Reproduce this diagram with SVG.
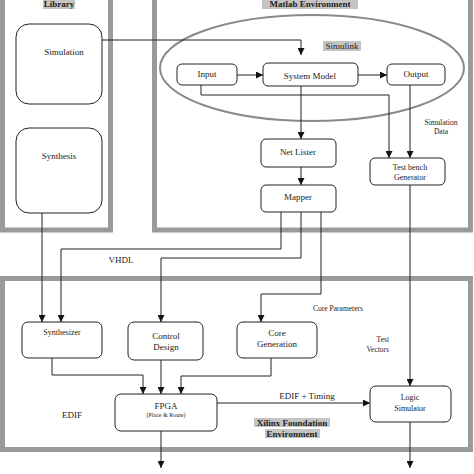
<svg xmlns="http://www.w3.org/2000/svg" width="474" height="474" viewBox="0 0 474 474">
<style>
.panel{fill:none;stroke:#9a9a9a;stroke-width:5}
.box{fill:#fff;stroke:#222;stroke-width:1}
.t{font-family:"Liberation Serif",serif;font-size:9px;fill:#222;text-anchor:middle}
.s{font-size:7.5px}
.m{font-size:8px}
.b{font-weight:bold}
.lbg{fill:#c4c4c4}
.c{fill:none;stroke:#222;stroke-width:1}
</style>
<defs>
<marker id="ah" viewBox="0 0 10 10" refX="10" refY="5" markerWidth="7" markerHeight="7" markerUnits="userSpaceOnUse" orient="auto">
<path d="M0,0 L10,5 L0,10 z" fill="#111"/>
</marker>
</defs>
<rect width="474" height="474" fill="#fff"/>
<g id="panels">
<rect class="panel" x="2.5" y="-10" width="108" height="240"/>
<rect class="panel" x="154.5" y="-10" width="316" height="240"/>
<rect class="panel" x="2.5" y="278.5" width="468" height="171"/>
<ellipse cx="312" cy="68" rx="152" ry="53" fill="none" stroke="#8a8a8a" stroke-width="2"/>
</g>
<g id="titles">
<rect class="lbg" x="43" y="0" width="32" height="9"/>
<text class="t b" x="59" y="7">Library</text>
<rect class="lbg" x="262" y="0" width="96" height="9"/>
<text class="t b" x="310" y="7">Matlab Environment</text>
<rect class="lbg" x="323" y="41" width="38" height="10"/>
<text class="t" x="342" y="49">Simulink</text>
<rect class="lbg" x="254" y="418" width="76" height="9"/>
<rect class="lbg" x="265" y="429" width="55" height="9"/>
<text class="t b" x="292" y="426">Xilinx Foundation</text>
<text class="t b" x="292" y="437">Environment</text>
</g>
<g id="connectors">
<polyline class="c" points="102,40 301,40 301,55" marker-end="url(#ah)"/>
<line class="c" x1="237" y1="75" x2="263" y2="75" marker-end="url(#ah)"/>
<line class="c" x1="358" y1="75" x2="387" y2="75" marker-end="url(#ah)"/>
<polyline class="c" points="201,85 201,95 389,95 389,158" marker-end="url(#ah)"/>
<line class="c" x1="410" y1="85" x2="410" y2="158" marker-end="url(#ah)"/>
<line class="c" x1="301" y1="86" x2="301" y2="139" marker-end="url(#ah)"/>
<line class="c" x1="301" y1="167" x2="301" y2="185" marker-end="url(#ah)"/>
<line class="c" x1="42" y1="213" x2="42" y2="322" marker-end="url(#ah)"/>
<polyline class="c" points="281,212 281,249 61,249 61,322" marker-end="url(#ah)"/>
<polyline class="c" points="301,212 301,258 161,258 161,322" marker-end="url(#ah)"/>
<polyline class="c" points="321,212 321,294 261,294 261,322" marker-end="url(#ah)"/>
<line class="c" x1="410" y1="185" x2="410" y2="386" marker-end="url(#ah)"/>
<polyline class="c" points="52,358 52,375 143,375 143,394" marker-end="url(#ah)"/>
<line class="c" x1="161" y1="360" x2="161" y2="394" marker-end="url(#ah)"/>
<polyline class="c" points="271,358 271,376 181,376 181,394" marker-end="url(#ah)"/>
<line class="c" x1="217" y1="403" x2="370" y2="403" marker-end="url(#ah)"/>
<line class="c" x1="161" y1="431" x2="161" y2="468" marker-end="url(#ah)"/>
<line class="c" x1="410" y1="422" x2="410" y2="468" marker-end="url(#ah)"/>
</g>
<g id="labels">
<text class="t" x="121" y="263">VHDL</text>
<text class="t s" x="338" y="311">Core Parameters</text>
<text class="t s" x="389" y="342" style="text-anchor:end">Test</text>
<text class="t s" x="389" y="352" style="text-anchor:end">Vectors</text>
<text class="t s" x="441" y="125">Simulation</text>
<text class="t s" x="441" y="134">Data</text>
<text class="t" x="72" y="418">EDIF</text>
<text class="t" x="307" y="399">EDIF + Timing</text>
</g>
<g id="simulation"><rect class="box" x="16" y="24" width="86" height="80" rx="13"/><text class="t" x="64" y="55">Simulation</text></g>
<g id="synthesis"><rect class="box" x="16" y="128" width="86" height="85" rx="13"/><text class="t" x="59" y="159">Synthesis</text></g>
<g id="input"><rect class="box" x="177" y="64" width="60" height="21" rx="5"/><text class="t" x="207" y="77">Input</text></g>
<g id="system-model"><rect class="box" x="263" y="63" width="95" height="23" rx="5"/><text class="t" x="310" y="79">System Model</text></g>
<g id="output"><rect class="box" x="387" y="64" width="58" height="21" rx="5"/><text class="t" x="416" y="77">Output</text></g>
<g id="net-lister"><rect class="box" x="261" y="139" width="75" height="28" rx="5"/><text class="t" x="298" y="155">Net Lister</text></g>
<g id="mapper"><rect class="box" x="261" y="185" width="75" height="27" rx="5"/><text class="t" x="298" y="200">Mapper</text></g>
<g id="test-bench"><rect class="box" x="370" y="158" width="75" height="27" rx="5"/><text class="t m" x="410" y="170">Test bench</text><text class="t m" x="410" y="180">Generator</text></g>
<g id="synthesizer"><rect class="box" x="22" y="322" width="80" height="36" rx="6"/><text class="t m" x="62" y="335">Synthesizer</text></g>
<g id="control-design"><rect class="box" x="128" y="322" width="75" height="38" rx="6"/><text class="t" x="166" y="339">Control</text><text class="t" x="166" y="350">Design</text></g>
<g id="core-generation"><rect class="box" x="237" y="322" width="80" height="36" rx="6"/><text class="t" x="277" y="336">Core</text><text class="t" x="277" y="347">Generation</text></g>
<g id="fpga"><rect class="box" x="115" y="394" width="102" height="37" rx="6"/><text class="t" x="166" y="409">FPGA</text><text class="t" style="font-size:6px" x="166" y="417">(Place &amp; Route)</text></g>
<g id="logic-simulator"><rect class="box" x="370" y="386" width="81" height="36" rx="6"/><text class="t m" x="410" y="400">Logic</text><text class="t m" x="410" y="411">Simulator</text></g>
</svg>
